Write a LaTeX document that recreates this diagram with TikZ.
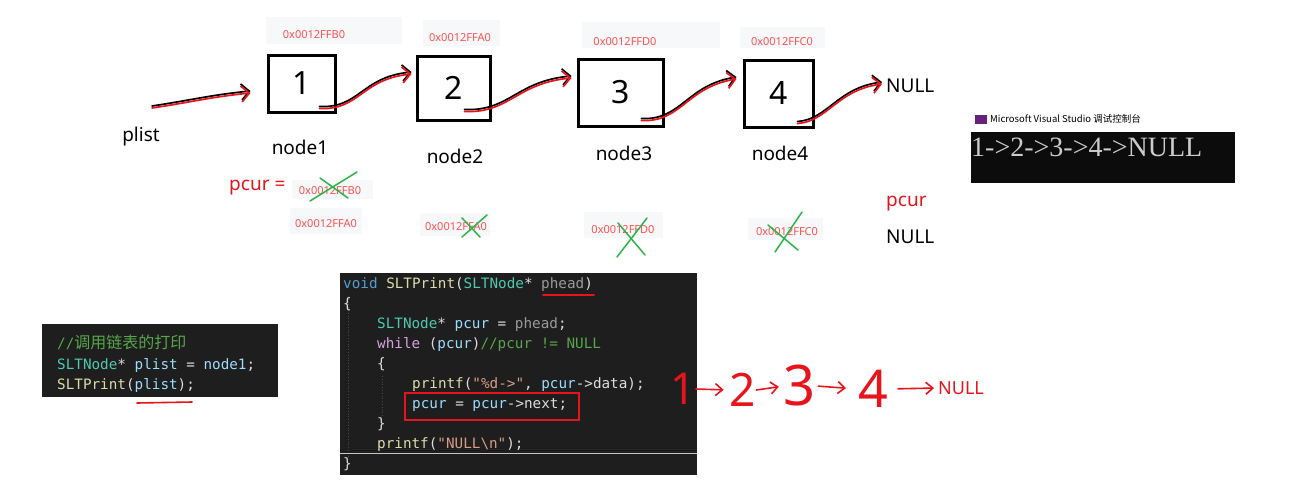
\documentclass[tikz,border=0pt]{standalone}
\usepackage{fontspec}
\setmainfont{Noto Sans}
\setmonofont{DejaVu Sans Mono}
\newfontfamily\cjk{Noto Sans CJK SC}
\newfontfamily\consolefont{Liberation Serif}
\usetikzlibrary{arrows.meta}

\definecolor{inkred}{HTML}{E8141C}
\definecolor{addrred}{HTML}{FF5050}
\definecolor{addrbg}{HTML}{F7F8FA}
\definecolor{xgreen}{HTML}{2DB34A}
\definecolor{codebg}{HTML}{1E1E1E}
\definecolor{consolebg}{HTML}{0C0C0C}
\definecolor{consolegray}{HTML}{CCCCCC}
\definecolor{vspurple}{HTML}{68217A}
\definecolor{kwblue}{HTML}{569CD6}
\definecolor{kwpurple}{HTML}{D8A0DF}
\definecolor{typeteal}{HTML}{4EC9B0}
\definecolor{funcyellow}{HTML}{DCDCAA}
\definecolor{varblue}{HTML}{9CDCFE}
\definecolor{strbrown}{HTML}{D69D85}
\definecolor{cmtgreen}{HTML}{57A64A}
\definecolor{plaintext}{HTML}{DCDCDC}
\definecolor{paramgray}{HTML}{9A9A9A}

% syntax colours of the editor
\newcommand{\ckw}[1]{\textcolor{kwblue}{#1}}
\newcommand{\cctl}[1]{\textcolor{kwpurple}{#1}}
\newcommand{\ctype}[1]{\textcolor{typeteal}{#1}}
\newcommand{\cfunc}[1]{\textcolor{funcyellow}{#1}}
\newcommand{\cvar}[1]{\textcolor{varblue}{#1}}
\newcommand{\cprm}[1]{\textcolor{paramgray}{#1}}
\newcommand{\cstr}[1]{\textcolor{strbrown}{#1}}
\newcommand{\ccmt}[1]{\textcolor{cmtgreen}{#1}}

\begin{document}
\begin{tikzpicture}[x=1pt,y=-1pt,
    listbox/.style={draw, line width=3pt, inner sep=0pt, font=\fontsize{32}{32}\selectfont},
    lbl/.style={inner sep=0pt, font=\fontsize{19}{22}\selectfont},
    addr/.style={inner sep=0pt, text=addrred, font=\fontsize{11}{13}\selectfont},
    scrawl/.style={line width=1.7pt, line cap=round, line join=round, -{Straight Barb[length=8pt,width=16pt]}},
    xmark/.style={xgreen, line width=1.5pt, line cap=round},
    redpen/.style={inkred, line width=1.6pt, line cap=round},
    handdigit/.style={inner sep=0pt, text=inkred, font=\fontsize{#1}{#1}\selectfont},
    codeline/.style={anchor=base west, inner sep=0pt, text=plaintext, font=\ttfamily\fontsize{14.3}{16}\selectfont},
    guide/.style={gray!55!black, dotted, line width=0.8pt}]
    \useasboundingbox (0,0) rectangle (1300,485);
    \fill[white] (0,0) rectangle (1300,485);

    % the list
    \node[listbox, minimum width=67pt, minimum height=57pt] (n1) at (301.5,83.5) {1};
    \node[listbox, minimum width=73pt, minimum height=64pt] (n2) at (453.5,88) {2};
    \node[listbox, minimum width=85pt, minimum height=67pt] (n3) at (620.5,92.5) {3};
    \node[listbox, minimum width=69pt, minimum height=67pt] (n4) at (778.5,93.5) {4};
    \node[lbl] (plist) at (141,137) {plist};
    \node[lbl] (l1) at (300,147) {node1};
    \node[lbl] (l2) at (455,156) {node2};
    \node[lbl] (l3) at (624,153) {node3};
    \node[lbl] (l4) at (780,153) {node4};
    \node[lbl, anchor=west] (null) at (886,86) {NULL};
    \coordinate (p0) at (152,106);

    \foreach \pen/\dy in {black/0pt, inkred/-2pt} {
        \begin{scope}[transform canvas={yshift=\dy}]
        \draw[scrawl, \pen] (p0) .. controls +(40,-6) and +(-40,4) .. ([xshift=-16pt,yshift=-7.5pt]n1.west);
        \draw[scrawl, \pen] ([xshift=-17pt,yshift=7pt]n1.south east) .. controls +(40,2) and +(-50,5) .. ([xshift=-4pt,yshift=16pt]n2.west);
        \draw[scrawl, \pen] ([xshift=-27pt,yshift=12pt]n2.south east) .. controls +(45,2) and +(-55,5) .. ([xshift=-5pt,yshift=16.5pt]n3.west);
        \draw[scrawl, \pen] ([xshift=-23pt,yshift=9pt]n3.south east) .. controls +(40,2) and +(-50,8) .. ([xshift=-6pt,yshift=16.5pt]n4.west);
        \draw[scrawl, \pen] ([xshift=-17pt,yshift=7pt]n4.south east) .. controls +(30,-2) and +(-45,6) .. ([xshift=-4pt,yshift=4pt]null.west);
        \end{scope}
    }

    % addresses
    \fill[addrbg] (266,17) rectangle (402,44);
    \fill[addrbg] (423,20) rectangle (500,46);
    \fill[addrbg] (582,22) rectangle (720,48);
    \fill[addrbg] (740,27) rectangle (825,48);
    \node[addr] (a1) at (314,35) {0x0012FFB0};
    \node[addr] (a2) at (460,38) {0x0012FFA0};
    \node[addr] (a3) at (625,42) {0x0012FFD0};
    \node[addr] (a4) at (782,42) {0x0012FFC0};

    % pcur walks along
    \node[lbl, text=inkred, anchor=west] (pcur) at (229,188) {pcur =};
    \fill[addrbg] (292,180) rectangle (373,199);
    \fill[addrbg] (290,208) rectangle (362,234);
    \fill[addrbg] (420,213) rectangle (490,236);
    \fill[addrbg] (584,212) rectangle (663,238);
    \fill[addrbg] (748,218) rectangle (823,240);
    \node[addr] (b0) at (330,191) {0x0012FFB0};
    \node[addr] (b1) at (326,224) {0x0012FFA0};
    \node[addr] (b2) at (456,227) {0x0012FFA0};
    \node[addr] (b3) at (623,230) {0x0012FFD0};
    \node[addr] (b4) at (787,232) {0x0012FFC0};
    \draw[xmark] (310,201) -- (357,172);
    \draw[xmark] (320,178) -- (348,198);
    \draw[xmark] (462,237) -- (487,215);
    \draw[xmark] (462,218) -- (480,237);
    \draw[xmark] (617,257) -- (647,218);
    \draw[xmark] (618,223) -- (645,255);
    \draw[xmark] (775,252) -- (802,212);
    \draw[xmark] (768,225) -- (798,250);
    \node[lbl, text=inkred, anchor=west] (pcurend) at (886,204) {pcur};
    \node[lbl, anchor=west] (nullend) at (886,237) {NULL};

    % console output
    \fill[vspurple] (975,115) rectangle (987,124);
    \node[anchor=west, inner sep=0pt, font=\cjk\fontsize{9.5}{11}\selectfont] (vstitle) at (990,119) {Microsoft Visual Studio 调试控制台};
    \fill[consolebg] (971,132) rectangle (1235,183);
    \node[anchor=west, inner sep=0pt, text=consolegray, font=\consolefont\fontsize{28}{30}\selectfont] (out) at (971,147) {1->2->3->4->NULL};

    % caller
    \fill[codebg] (42,324) rectangle (278,397);
    \node[codeline] (c1) at (57,348) {\ccmt{//{\cjk\fontsize{16}{16}\selectfont 调用链表的打印}}};
    \node[codeline] (c2) at (57,369) {\ctype{SLTNode}* \cvar{plist} = \cvar{node1};};
    \node[codeline] (c3) at (57,389) {\cfunc{SLTPrint}(\cvar{plist});};
    \draw[redpen] (137,403) -- (192,402);

    % print function
    \fill[codebg] (340,273) rectangle (697,475);
    \draw[guide] (348,296) -- (348,458);
    \draw[guide] (382,376) -- (382,416);
    \draw[gray!45, line width=0.8pt] (340,453) -- (697,453);
    \node[codeline] (f1) at (343,288) {\ckw{void} \cfunc{SLTPrint}(\ctype{SLTNode}* \cprm{phead})};
    \node[codeline] (f2) at (343,308) {\{};
    \node[codeline] (f3) at (377,328) {\ctype{SLTNode}* \cvar{pcur} = \cprm{phead};};
    \node[codeline] (f4) at (377,348) {\cctl{while} (\cvar{pcur})\ccmt{//pcur != NULL}};
    \node[codeline] (f5) at (377,368) {\{};
    \node[codeline] (f6) at (412,388) {\cfunc{printf}(\cstr{"\%d->"}, \cvar{pcur}->data);};
    \node[codeline] (f7) at (412,408) {\cvar{pcur} = \cvar{pcur}->next;};
    \node[codeline] (f8) at (377,428) {\}};
    \node[codeline] (f9) at (377,448) {\cfunc{printf}(\cstr{"NULL\textbackslash n"});};
    \node[codeline] (f10) at (343,468) {\}};
    \draw[redpen] (543,295) -- (594,295);
    \draw[inkred, line width=2.5pt] (405,393) rectangle (579,420);

    % what it prints
    \node[handdigit=44] (h1) at (683,389) {1};
    \node[handdigit=46] (h2) at (743,390) {2};
    \node[handdigit=56] (h3) at (800,386) {3};
    \node[handdigit=52] (h4) at (873,389) {4};
    \node[inner sep=0pt, text=inkred, anchor=west, font=\fontsize{18}{20}\selectfont] (hnull) at (938,388) {NULL};
    \draw[redpen, -{Straight Barb[length=7pt,width=12pt]}, shorten >=6pt] (h1.east) -- (h2.west);
    \draw[redpen, -{Straight Barb[length=7pt,width=12pt]}, shorten >=5pt] (h2.east) -- (h3.west);
    \draw[redpen, -{Straight Barb[length=7pt,width=12pt]}, shorten <=2pt, shorten >=12pt] (h3.east) -- (h4.west);
    \draw[redpen, -{Straight Barb[length=7pt,width=12pt]}, shorten <=10pt, shorten >=4pt] (h4.east) -- (hnull.west);
\end{tikzpicture}
\end{document}
